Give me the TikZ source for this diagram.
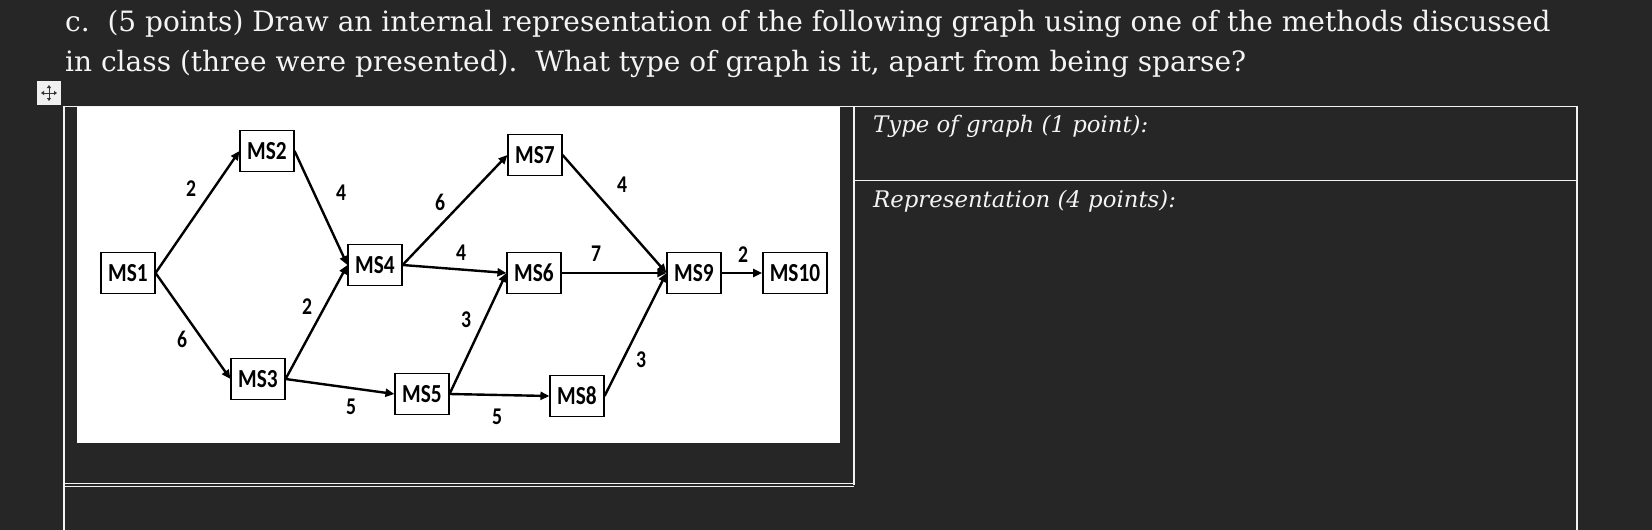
\documentclass[tikz,border=0pt]{standalone}
\usepackage{fontspec}
\setmainfont{DejaVu Serif}
\newfontfamily\boxfont[FakeStretch=0.82]{Carlito}
\usetikzlibrary{arrows.meta}

\definecolor{pagebg}{HTML}{262626}
\definecolor{rulecol}{HTML}{F2F2F2}
\definecolor{textcol}{HTML}{F4F4F4}

\tikzset{
  ms/.style={draw=black,line width=1.6pt,fill=white,minimum width=53pt,minimum height=41pt,
    inner sep=0pt,inner xsep=7pt,font=\boxfont\bfseries\fontsize{26}{26}\selectfont},
  wt/.style={inner sep=0pt,font=\boxfont\bfseries\fontsize{24}{24}\selectfont},
  edge/.style={line width=2.4pt,-{Triangle[length=9pt,width=8pt]}},
  cell/.style={draw=rulecol,line width=1.6pt},
  head/.style={anchor=base west,inner sep=0pt,text=textcol,font=\fontsize{28}{28}\selectfont},
  rowhead/.style={anchor=base west,inner sep=0pt,text=textcol,font=\itshape\fontsize{22.8}{22.8}\selectfont},
}

\begin{document}
\begin{tikzpicture}[x=1pt,y=-1pt]
	\fill[pagebg] (0,0) rectangle (1652,530);
	\useasboundingbox (0,0) rectangle (1652,530);

	% question text
	\node[head] (line1) at (65,31.5) {c.\ \ (5 points) Draw an internal representation of the following graph using one of the methods discussed};
	\node[head] (line2) at (65,71.5) {in class (three were presented).\ \ What type of graph is it, apart from being sparse?};

	% table handle
	\fill[white!94!black] (37,81) rectangle (61,105);
	\draw[black!80,line width=1pt,{Triangle[length=3pt,width=4pt]}-{Triangle[length=3pt,width=4pt]}] (41,93)--(57,93);
	\draw[black!80,line width=1pt,{Triangle[length=3pt,width=4pt]}-{Triangle[length=3pt,width=4pt]}] (49,85)--(49,101);

	% table
	\draw[cell] (64,106.5)--(1577,106.5);
	\draw[cell] (64,106)--(64,530);
	\draw[cell] (1577,106)--(1577,530);
	\draw[cell] (854,106)--(854,485);
	\draw[cell] (854,180.5)--(1577,180.5);
	\draw[rulecol,line width=1.2pt] (64,483.5)--(854,483.5);
	\draw[rulecol,line width=1.2pt] (64,486.5)--(854,486.5);

	\node[rowhead] (typeof) at (873,132) {Type of graph (1 point):};
	\node[rowhead] (repr) at (873,207) {Representation (4 points):};

	% graph picture
	\fill[white] (77,107) rectangle (840,443);

	\node[ms] (ms1) at (128,273) {MS1};
	\node[ms] (ms2) at (267,151) {MS2};
	\node[ms] (ms3) at (258,379) {MS3};
	\node[ms] (ms4) at (375,265) {MS4};
	\node[ms] (ms5) at (422,394) {MS5};
	\node[ms] (ms6) at (534,273) {MS6};
	\node[ms] (ms7) at (535,155) {MS7};
	\node[ms] (ms8) at (577,396) {MS8};
	\node[ms] (ms9) at (694,273) {MS9};
	\node[ms] (ms10) at (795,273) {MS10};

	\draw[edge] (ms1.east)--(ms2.west);
	\draw[edge] (ms1.east)--(ms3.west);
	\draw[edge] (ms2.east)--(ms4.west);
	\draw[edge] (ms3.east)--(ms4.west);
	\draw[edge] (ms3.east)--(ms5.west);
	\draw[edge] (ms4.east)--(ms7.west);
	\draw[edge] (ms4.east)--(ms6.west);
	\draw[edge] (ms5.east)--(ms6.west);
	\draw[edge] (ms5.east)--(ms8.west);
	\draw[edge] (ms7.east)--(ms9.west);
	\draw[edge] (ms6.east)--(ms9.west);
	\draw[edge] (ms8.east)--(ms9.west);
	\draw[edge] (ms9.east)--(ms10.west);

	\node[wt] (w12) at (191,189) {2};
	\node[wt] (w13) at (182,339) {6};
	\node[wt] (w24) at (341,193) {4};
	\node[wt] (w34) at (307,307) {2};
	\node[wt] (w35) at (351,407) {5};
	\node[wt] (w47) at (440,202) {6};
	\node[wt] (w46) at (461,253) {4};
	\node[wt] (w56) at (466,320) {3};
	\node[wt] (w79) at (622,185) {4};
	\node[wt] (w69) at (596,254) {7};
	\node[wt] (w910) at (743,255) {2};
	\node[wt] (w89) at (641,360) {3};
	\node[wt] (w58) at (497,417) {5};
\end{tikzpicture}
\end{document}
